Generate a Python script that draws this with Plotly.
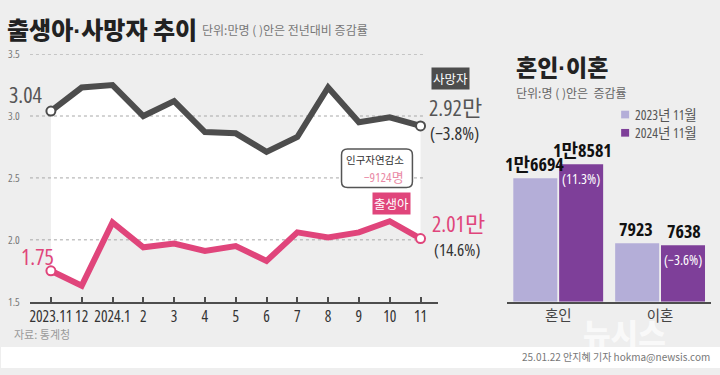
import plotly.graph_objects as go

# ---------------- data ----------------
months = ["2023.11", "12", "2024.1", "2", "3", "4", "5", "6", "7", "8", "9", "10", "11"]
deaths = [3.04, 3.23, 3.25, 3.00, 3.12, 2.87, 2.86, 2.71, 2.83, 3.23, 2.95, 2.99, 2.92]
births = [1.75, 1.63, 2.14, 1.94, 1.97, 1.91, 1.95, 1.83, 2.06, 2.02, 2.06, 2.15, 2.01]
y_ticks = [1.5, 2.0, 2.5, 3.0, 3.5]
y_tick_labels = ["1.5", "2.0", "2.5", "3.0", "3.5"]

bar_categories = ["혼인", "이혼"]
bar_2023 = [16694, 7923]
bar_2024 = [18581, 7638]
bar_2023_labels = ["1만6694", "7923"]
bar_2024_labels = ["1만8581", "7638"]
bar_2024_change = ["(11.3%)", "(−3.6%)"]
legend_names = ["2023년 11월", "2024년 11월"]

# ---------------- style ----------------
W, H = 720, 375
DARK = "#4d4d4d"
PINK = "#e0457b"
LAV = "#b4aed8"
PURP = "#7e3f99"
BG = "#eeeeee"
NUM = "Open Sans, Noto Sans CJK KR, sans-serif"
KR = "Noto Sans CJK KR, Noto Sans, sans-serif"
DOT = '<span style="font-family:Liberation Sans">·</span>'


def C(t):
    return f'<span style="font-stretch:condensed">{t}</span>'


def px(x):
    return x / W


def py(y):
    return 1 - y / H


xs = list(range(len(months)))
x_lo, x_hi = -0.68, 12.58
grid_end = 12.1

fig = go.Figure()

# white fill between lines
fig.add_trace(go.Scatter(x=xs, y=deaths, mode="lines", line=dict(width=0, color="rgba(0,0,0,0)"),
                         hoverinfo="skip", showlegend=False))
fig.add_trace(go.Scatter(x=xs, y=births, mode="lines", line=dict(width=0, color="rgba(0,0,0,0)"),
                         fill="tonexty", fillcolor="white", hoverinfo="skip", showlegend=False))

# dotted gridlines (above the fill)
for v in y_ticks[1:]:
    fig.add_trace(go.Scatter(x=[x_lo, grid_end], y=[v, v], mode="lines",
                             line=dict(color="#a8a8a8", width=1, dash="dot"),
                             hoverinfo="skip", showlegend=False))

# main lines
fig.add_trace(go.Scatter(x=xs, y=deaths, mode="lines", line=dict(color=DARK, width=6),
                         showlegend=False))
fig.add_trace(go.Scatter(x=xs, y=births, mode="lines", line=dict(color=PINK, width=6),
                         showlegend=False))
# end markers
fig.add_trace(go.Scatter(x=[xs[0], xs[-1]], y=[deaths[0], deaths[-1]], mode="markers",
                         marker=dict(size=9, color="white", line=dict(color=DARK, width=2)),
                         showlegend=False))
fig.add_trace(go.Scatter(x=[xs[0], xs[-1]], y=[births[0], births[-1]], mode="markers",
                         marker=dict(size=9, color="white", line=dict(color=PINK, width=2)),
                         showlegend=False))

# bars
fig.add_trace(go.Bar(x=bar_categories, y=bar_2023, name=legend_names[0], marker=dict(color=LAV, line=dict(width=0)),
                     xaxis="x2", yaxis="y2", showlegend=False))
fig.add_trace(go.Bar(x=bar_categories, y=bar_2024, name=legend_names[1], marker=dict(color=PURP, line=dict(width=0)),
                     xaxis="x2", yaxis="y2", showlegend=False))

ann = []


def A(text, x, y, size, color, family=NUM, xanchor="left", yanchor="middle", weight=None, **kw):
    f = dict(size=size, color=color, family=family)
    if weight:
        f["weight"] = weight
    d = dict(text=text, x=px(x), y=py(y), xref="paper", yref="paper", showarrow=False,
             xanchor=xanchor, yanchor=yanchor, font=f)
    d.update(kw)
    ann.append(d)


# watermark
A("뉴시스", 624, 338, 30, "rgba(255,255,255,0.7)", family=KR, xanchor="center", weight=900)

# titles
A("출생아" + DOT + "사망자 추이", 4, 21, 24, "#222", family=KR, weight=900)
A("단위:만명 ( )안은 전년대비 증감률", 199, 22, 12, "#777", family=KR)
A("혼인" + DOT + "이혼", 514, 60, 23, "#222", family=KR, weight=900)
A("단위:명 ( )안은  증감률", 514, 88, 12, "#666", family=KR)


# line labels anchored to data
def D(text, xv, yv, size, color, xanchor, xshift, yshift, family=NUM):
    ann.append(dict(text=C(text), x=xv, y=yv, xref="x", yref="y", showarrow=False,
                    xanchor=xanchor, yanchor="middle", xshift=xshift, yshift=yshift,
                    font=dict(size=size, color=color, family=family)))


D("3.04", xs[0], deaths[0], 22, "#555", "right", -6, 17)
D("1.75", xs[0], births[0], 22, PINK, "right", 5, 15)
D("2.92만", xs[-1], deaths[-1], 22, "#555", "left", 6, 19)
D("(−3.8%)", xs[-1], deaths[-1], 18, "#333", "left", 7, -7)
D("2.01만", xs[-1], births[-1], 22, PINK, "left", 9, 16)
D("(14.6%)", xs[-1], births[-1], 17, "#333", "left", 11, -11)

A("사망자", 450, 73.5, 12.5, "white", family=KR, xanchor="center", bgcolor=DARK, borderpad=1)
A("출생아", 391, 203.5, 12.5, "white", family=KR, xanchor="center", bgcolor=PINK, borderpad=1)

A("인구자연감소", 375, 158, 10.5, "#333", family=KR, xanchor="center")
A(C("−9124명"), 406, 176, 13, "#ea8aa6", family=NUM, xanchor="right")

A("자료: 통계청", 11, 340, 11, "#9a9a9a", family=KR)
A("25.01.22 안지혜 기자 hokma@newsis.com", 712, 363, 10, "#777", family=KR, xanchor="right")

# legend (manual)
A(C(legend_names[0]), 633, 111, 13.5, "#555", family=NUM)
A(C(legend_names[1]), 633, 130, 13.5, "#555", family=NUM)

# bar labels
for i, c in enumerate(bar_categories):
    ann.append(dict(text=C(bar_2023_labels[i]), x=c, y=bar_2023[i], xref="x2", yref="y2", showarrow=False,
                    xanchor="center", yanchor="bottom", xshift=-24, yshift=0,
                    font=dict(size=18, color="#111", family=NUM, weight="bold")))
    ann.append(dict(text=C(bar_2024_labels[i]), x=c, y=bar_2024[i], xref="x2", yref="y2", showarrow=False,
                    xanchor="center", yanchor="bottom", xshift=24, yshift=0,
                    font=dict(size=18, color="#111", family=NUM, weight="bold")))
    ann.append(dict(text=C(bar_2024_change[i]), x=c, y=bar_2024[i], xref="x2", yref="y2", showarrow=False,
                    xanchor="center", yanchor="top", xshift=23, yshift=-3,
                    font=dict(size=14, color="white", family=NUM)))


# rounded box path
def rbox(x0, y0, x1, y1, r):
    X0, X1 = px(x0), px(x1)
    Y0, Y1 = py(y0), py(y1)
    rx, ry = r / W, r / H
    return (f"M{X0+rx},{Y0} L{X1-rx},{Y0} Q{X1},{Y0} {X1},{Y0-ry} "
            f"L{X1},{Y1+ry} Q{X1},{Y1} {X1-rx},{Y1} L{X0+rx},{Y1} Q{X0},{Y1} {X0},{Y1+ry} "
            f"L{X0},{Y0-ry} Q{X0},{Y0} {X0+rx},{Y0} Z")


shapes = [
    dict(type="rect", xref="paper", yref="paper", x0=0, x1=1, y0=0, y1=py(353),
         fillcolor="white", line=dict(width=0), layer="below"),
    dict(type="path", xref="paper", yref="paper", path=rbox(341, 147, 412, 187, 6),
         fillcolor="white", line=dict(color="#555", width=1.5), layer="above"),
    dict(type="rect", xref="paper", yref="paper", x0=px(621), x1=px(629), y0=py(115), y1=py(107),
         fillcolor=LAV, line=dict(width=0)),
    dict(type="rect", xref="paper", yref="paper", x0=px(621), x1=px(629), y0=py(134), y1=py(126),
         fillcolor=PURP, line=dict(width=0)),
]

fig.update_layout(
    width=W, height=H,
    margin=dict(l=0, r=0, t=0, b=0),
    paper_bgcolor=BG, plot_bgcolor="rgba(0,0,0,0)",
    showlegend=False,
    barmode="group", bargap=0.1, bargroupgap=0.04,
    xaxis=dict(domain=[px(29), px(438)], range=[x_lo, x_hi], tickvals=xs, ticktext=[C(m) for m in months],
               ticks="inside", ticklen=5, tickwidth=1.5, tickcolor=DARK, tickangle=0,
               showline=True, linecolor=DARK, linewidth=2, showgrid=False, zeroline=False,
               tickfont=dict(size=15.5, color="#333", family=NUM), fixedrange=True),
    yaxis=dict(domain=[py(306), py(48)], range=[1.5, 3.5], tickvals=y_ticks,
               ticktext=[C(t) for t in y_tick_labels],
               ticks="outside", ticklen=7, tickcolor="rgba(0,0,0,0)", showgrid=False, zeroline=False,
               showline=False, tickfont=dict(size=11, color="#777", family=NUM), fixedrange=True),
    xaxis2=dict(domain=[px(507), px(711)], anchor="y2", range=[-0.5, 1.5], showline=True,
                linecolor=DARK, linewidth=2, ticks="", showgrid=False, zeroline=False,
                tickfont=dict(size=14.5, color="#444", family=KR), fixedrange=True),
    yaxis2=dict(domain=[py(306), py(156)], anchor="x2", range=[0, 19458], visible=False,
                showgrid=False, zeroline=False, fixedrange=True),
    annotations=ann,
    shapes=shapes,
)

fig.write_html("out.html", config={"displayModeBar": False},
               post_script="document.body.style.margin='0';document.body.style.overflow='hidden';")
